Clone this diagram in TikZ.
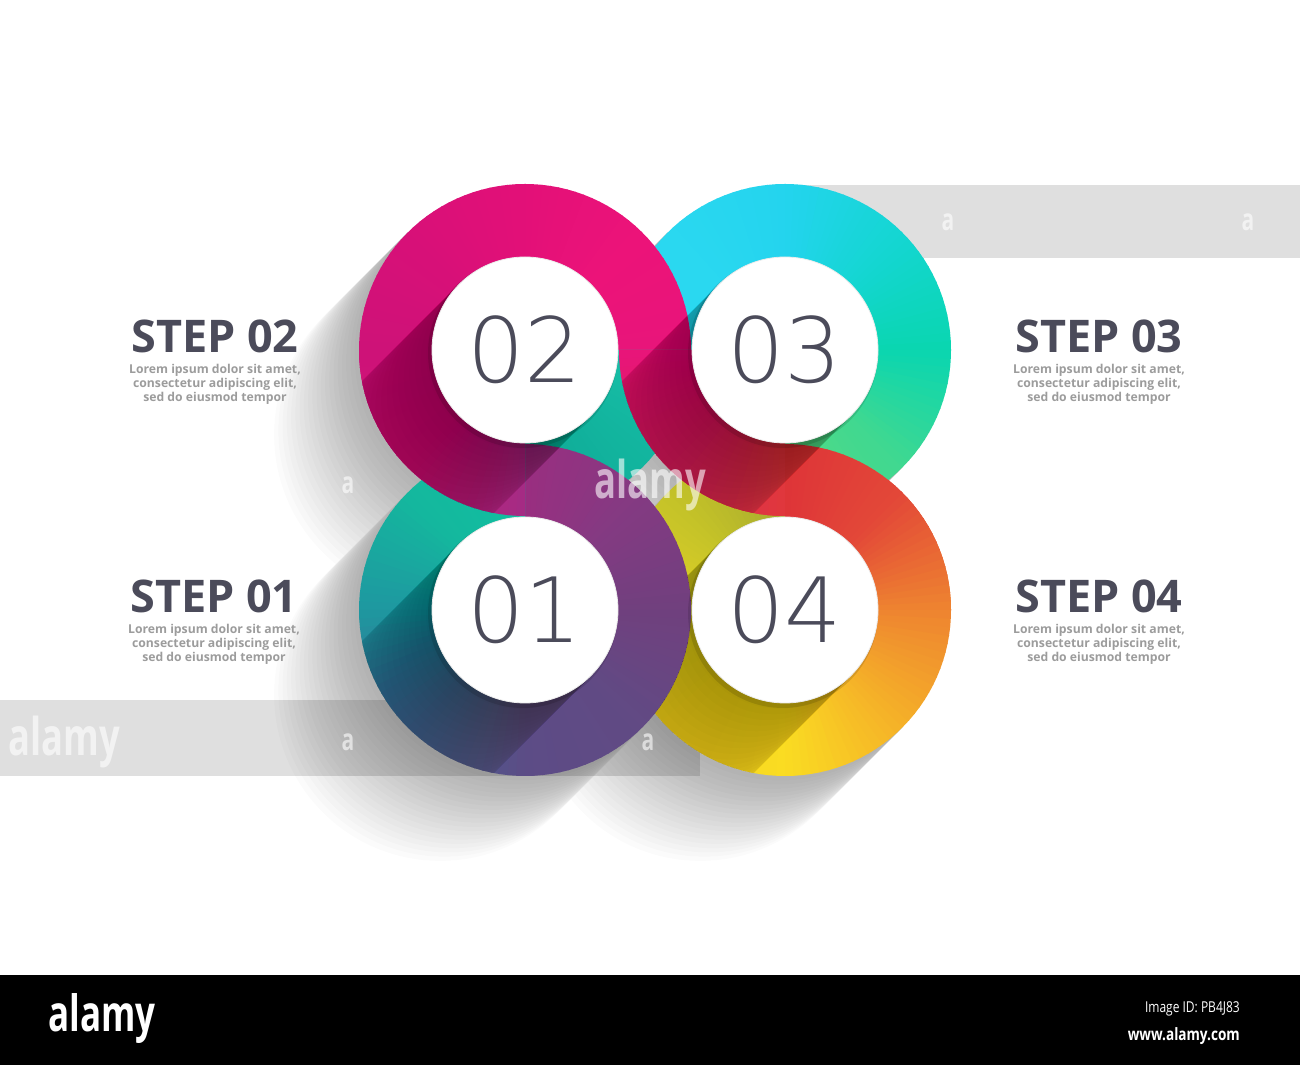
\documentclass[tikz,border=0pt]{standalone}
\usepackage{fontspec}
\usepackage{graphicx}
\setmainfont{Open Sans}
\IfFontExistsTF{DejaVu Sans ExtraLight}
  {\newfontfamily\numfont{DejaVu Sans ExtraLight}}
  {\newfontfamily\numfont{Open Sans}}
\usepackage{tikz}
\usetikzlibrary{positioning}

\definecolor{txtdark}{HTML}{4B4B5A}
\definecolor{txtlight}{HTML}{9C9C9C}
\definecolor{bandgray}{HTML}{DFDFDF}

% ring colours, quadrant q (0 = upper right, counter-clockwise): start, middle, end
\definecolor{r1q0s}{HTML}{70407E}\definecolor{r1q0m}{HTML}{843A82}\definecolor{r1q0e}{HTML}{9A2E80}
\definecolor{r1q1s}{HTML}{10C0A0}\definecolor{r1q1m}{HTML}{14B89E}\definecolor{r1q1e}{HTML}{1E98A0}
\definecolor{r1q2s}{HTML}{1E98A0}\definecolor{r1q2m}{HTML}{3F6590}\definecolor{r1q2e}{HTML}{5C4C86}
\definecolor{r1q3s}{HTML}{5C4C86}\definecolor{r1q3m}{HTML}{614A84}\definecolor{r1q3e}{HTML}{70407E}
\definecolor{r2q0s}{HTML}{E8157A}\definecolor{r2q0m}{HTML}{EC1379}\definecolor{r2q0e}{HTML}{E31078}
\definecolor{r2q1s}{HTML}{E31078}\definecolor{r2q1m}{HTML}{D81078}\definecolor{r2q1e}{HTML}{CE1278}
\definecolor{r2q2s}{HTML}{CE1278}\definecolor{r2q2m}{HTML}{CC1675}\definecolor{r2q2e}{HTML}{A42C84}
\definecolor{r2q3s}{HTML}{0FA895}\definecolor{r2q3m}{HTML}{12B49E}\definecolor{r2q3e}{HTML}{18C0A8}
\definecolor{r3q0s}{HTML}{0AD6B0}\definecolor{r3q0m}{HTML}{14D6D2}\definecolor{r3q0e}{HTML}{24D4EE}
\definecolor{r3q1s}{HTML}{24D4EE}\definecolor{r3q1m}{HTML}{2AD8F0}\definecolor{r3q1e}{HTML}{2AD8F0}
\definecolor{r3q2s}{HTML}{E8147A}\definecolor{r3q2m}{HTML}{DC2458}\definecolor{r3q2e}{HTML}{E0383C}
\definecolor{r3q3s}{HTML}{55DA85}\definecolor{r3q3m}{HTML}{40D890}\definecolor{r3q3e}{HTML}{0AD6B0}
\definecolor{r4q0s}{HTML}{EE8430}\definecolor{r4q0m}{HTML}{E34838}\definecolor{r4q0e}{HTML}{DE3438}
\definecolor{r4q1s}{HTML}{A6AA30}\definecolor{r4q1m}{HTML}{C4C228}\definecolor{r4q1e}{HTML}{E2D226}
\definecolor{r4q2s}{HTML}{E2D226}\definecolor{r4q2m}{HTML}{F4D622}\definecolor{r4q2e}{HTML}{FADC22}
\definecolor{r4q3s}{HTML}{FADC22}\definecolor{r4q3m}{HTML}{F5B228}\definecolor{r4q3e}{HTML}{EE8430}

% one quadrant of a ring, filled in thin wedges
\newcommand{\ringquad}[3]{%
  \foreach \s in {0,...,29}{
    \pgfmathsetmacro{\angA}{90*#3+3*\s}
    \pgfmathsetmacro{\angB}{min(\angA+3.5,90*#3+90)}
    \ifnum\s<15
      \pgfmathtruncatemacro{\pc}{100-(\s+0.5)*100/15}
      \colorlet{segcol}{#1q#3s!\pc!#1q#3m}
    \else
      \pgfmathtruncatemacro{\pc}{100-(\s-14.5)*100/15}
      \colorlet{segcol}{#1q#3m!\pc!#1q#3e}
    \fi
    \fill[segcol] (#2) -- ++(\angA:166) arc[start angle=\angA, end angle=\angB, radius=166] -- cycle;
  }%
}

% long shadow of a white disc
\newcommand{\discshadow}[1]{%
  \foreach \L in {8,16,...,200}
    \fill[black,opacity=0.01,nonzero rule] (#1) ++(135:93) -- ++(225:\L) -- ++(-45:186) -- ++(45:\L) -- cycle
      ([shift={(225:\L)}]#1) circle[radius=93];
}

\begin{document}
\begin{tikzpicture}[x=1pt,y=1pt,
  steptitle/.style={font=\bfseries\fontsize{45}{45}\selectfont, text=txtdark, inner sep=0pt},
  steptext/.style={font=\bfseries\fontsize{12.2}{14}\selectfont, text=txtlight, align=center, inner sep=0pt},
  numtext/.style={font=\numfont\fontsize{90}{90}\selectfont, text=txtdark, inner sep=0pt},
  wmark/.style={text=white, opacity=0.6, inner sep=0pt}]
\useasboundingbox (0,0) rectangle (1300,1065);
\fill[white] (0,0) rectangle (1300,1065);
% grey bands and bottom bar
\fill[bandgray] (800,807) rectangle (1300,880);
\fill[bandgray] (0,289) rectangle (700,365);
\fill[black] (0,0) rectangle (1300,90);

\coordinate (c01) at (525,455);
\coordinate (c02) at (525,715);
\coordinate (c03) at (785,715);
\coordinate (c04) at (785,455);

% long shadow on the background
\foreach \L in {6,12,...,120}
  \fill[black,opacity=0.014] \foreach \cc in {c01,c02,c03,c04}{
    (\cc) ++(135:166) -- ++(225:\L) -- ++(-45:332) -- ++(45:\L) -- cycle
    ([shift={(225:\L)}]\cc) circle[radius=166] };

% rings: base order, then the quadrants that lie on top
\foreach \rg/\cc in {r4/c04, r3/c03, r2/c02, r1/c01}
  \foreach \q in {0,...,3}{\ringquad{\rg}{\cc}{\q}}
\ringquad{r3}{c03}{2}
\ringquad{r2}{c02}{2}
\ringquad{r4}{c04}{0}

% shadows of the white discs, each on its own ring
\foreach \cc in {c01,c02,c03}{
  \begin{scope}
  \clip (\cc) circle[radius=166];
  \discshadow{\cc}
  \end{scope}
}
\begin{scope}
\clip (c04) circle[radius=166];
\begin{scope}[even odd rule]
\clip (0,0) rectangle (1300,1065) (c01) circle[radius=166];
\discshadow{c04}
\end{scope}
\end{scope}

% white discs with numbers
\foreach \cc/\nn in {c01/01, c02/02, c03/03, c04/04}{
  \fill[black,opacity=0.12] ([shift={(-2,-3)}]\cc) circle[radius=95];
  \fill[white,draw=black!8,line width=0.8pt] (\cc) circle[radius=93];
  \node[numtext] (num\nn) at (\cc) {\nn};
}

% labels
\node[steptitle] (step02) at (215,729) {STEP 02};
\node[steptext, below=11pt of step02] (text02) {Lorem ipsum dolor sit amet,\\consectetur adipiscing elit,\\sed do eiusmod tempor};
\node[steptitle] (step01) at (214,469) {STEP 01};
\node[steptext, below=11pt of step01] (text01) {Lorem ipsum dolor sit amet,\\consectetur adipiscing elit,\\sed do eiusmod tempor};
\node[steptitle] (step03) at (1099,729) {STEP 03};
\node[steptext, below=11pt of step03] (text03) {Lorem ipsum dolor sit amet,\\consectetur adipiscing elit,\\sed do eiusmod tempor};
\node[steptitle] (step04) at (1099,469) {STEP 04};
\node[steptext, below=11pt of step04] (text04) {Lorem ipsum dolor sit amet,\\consectetur adipiscing elit,\\sed do eiusmod tempor};

% watermark
\node[wmark, font=\bfseries\fontsize{52}{52}\selectfont] (wmcentre) at (650,580) {\scalebox{0.7}[1]{alamy}};
\node[wmark, font=\bfseries\fontsize{52}{52}\selectfont] (wmleft) at (64,323) {\scalebox{0.7}[1]{alamy}};
\foreach \x/\y [count=\i] in {948/843, 1248/843, 348/580, 348/323, 648/323}
  \node[wmark, font=\bfseries\fontsize{30}{30}\selectfont] (wma\i) at (\x,\y) {\scalebox{0.7}[1]{a}};

% bottom bar texts
\node[text=white, font=\bfseries\fontsize{50}{50}\selectfont, inner sep=0pt] (logo) at (102,46) {\scalebox{0.7}[1]{alamy}};
\node[text=white, font=\fontsize{15}{15}\selectfont, anchor=east, inner sep=0pt] (imgid) at (1240,56) {\scalebox{0.8}[1]{Image ID: PB4J83}};
\node[text=white, font=\bfseries\fontsize{17}{17}\selectfont, anchor=east, inner sep=0pt] (site) at (1240,29) {\scalebox{0.8}[1]{www.alamy.com}};
\end{tikzpicture}
\end{document}
